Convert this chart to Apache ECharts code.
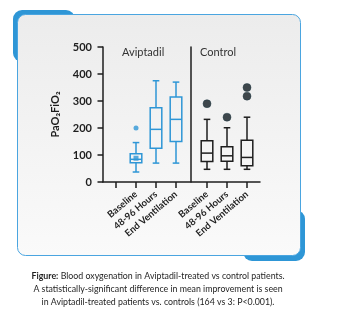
<!DOCTYPE html>
<html>
<head>
<meta charset="utf-8">
<script src="https://cdn.jsdelivr.net/npm/echarts@6/dist/echarts.min.js"></script>
<style>
html,body{margin:0;padding:0;background:#ffffff;}
#chart{width:341px;height:321px;}
</style>
</head>
<body>
<div id="chart"></div>
<script>
// ---- data ----
const categories = ['Baseline', '48-96 Hours', 'End Ventilation'];
const groupTitles = ['Aviptadil', 'Control'];
const yTicks = [0, 100, 200, 300, 400, 500];
// [min, Q1, median, Q3, max]
const aviptadilBoxes = [
  [37, 71, 84, 105, 146],
  [70, 125, 195, 275, 375],
  [70, 150, 232, 315, 370]
];
const aviptadilOutliers = [['Baseline', 200]];
const aviptadilMeans = [['Baseline', 88]];
const controlBoxes = [
  [47, 76, 107, 153, 232],
  [47, 77, 97, 131, 201],
  [47, 60, 91, 155, 240]
];
const controlOutliers = [['Baseline', 290], ['48-96 Hours', 240], ['End Ventilation', 318], ['End Ventilation', 350]];

const BLUE = '#2e96d6';
const DARK = '#1e1e1e';
const FONT = 'Lato';

function boxRenderer(color) {
  return function (params, api) {
    const x = api.value(0);
    const lo = api.coord([x, api.value(1)]);
    const q1 = api.coord([x, api.value(2)]);
    const md = api.coord([x, api.value(3)]);
    const q3 = api.coord([x, api.value(4)]);
    const hi = api.coord([x, api.value(5)]);
    const band = api.size([1, 0])[0];
    const bw = band * 0.58;
    const cw = band * 0.33;
    const cx = md[0];
    const st = { stroke: color, lineWidth: 1.5, fill: null };
    return {
      type: 'group',
      children: [
        { type: 'rect', shape: { x: cx - bw / 2, y: q3[1], width: bw, height: q1[1] - q3[1] }, style: { stroke: color, lineWidth: 1.5, fill: 'rgba(0,0,0,0)' } },
        { type: 'line', shape: { x1: cx - bw / 2, y1: md[1], x2: cx + bw / 2, y2: md[1] }, style: st },
        { type: 'line', shape: { x1: cx, y1: q3[1], x2: cx, y2: hi[1] }, style: st },
        { type: 'line', shape: { x1: cx, y1: q1[1], x2: cx, y2: lo[1] }, style: st },
        { type: 'line', shape: { x1: cx - cw / 2, y1: hi[1], x2: cx + cw / 2, y2: hi[1] }, style: st },
        { type: 'line', shape: { x1: cx - cw / 2, y1: lo[1], x2: cx + cw / 2, y2: lo[1] }, style: st }
      ]
    };
  };
}

const chart = echarts.init(document.getElementById('chart'), null, { renderer: 'canvas' });

const axisLineStyle = { color: DARK, width: 1.5 };
const xLabel = { interval: 0, rotate: 40, fontWeight: 'bold', fontSize: 9.5, color: DARK, fontFamily: FONT, margin: 11 };

const option = {
  animation: false,
  textStyle: { fontFamily: FONT },
  graphic: [
    { type: 'rect', z: 0, shape: { x: 13, y: 10, width: 62, height: 52, r: 9 }, style: { fill: BLUE } },
    { type: 'rect', z: 0, shape: { x: 243, y: 210, width: 62, height: 51, r: 9 }, style: { fill: BLUE } },
    { type: 'rect', z: 1, shape: { x: 17.5, y: 14.5, width: 283, height: 241, r: 8 },
      style: { stroke: '#4aa5e0', lineWidth: 1,
        fill: { type: 'linear', x: 0, y: 0, x2: 0, y2: 1, colorStops: [{ offset: 0, color: '#ececec' }, { offset: 1, color: '#fafafa' }] } } },
    { type: 'text', z: 2, style: {
        x: 158, y: 270, textAlign: 'center', lineHeight: 12.7, fontSize: 8.8, fontFamily: FONT, fill: DARK,
        text: '{b|Figure:} Blood oxygenation in Aviptadil-treated vs control patients.\nA statistically-significant difference in mean improvement is seen\nin Aviptadil-treated patients vs. controls (164 vs 3: P<0.001).',
        rich: { b: { fontWeight: 'bold', fontSize: 8.8, fontFamily: FONT, fill: DARK } }
      } }
  ],
  title: [
    { text: groupTitles[0], left: 122, top: 47, padding: 0, z: 8, textStyle: { fontSize: 11, fontWeight: 'normal', color: '#333', fontFamily: FONT } },
    { text: groupTitles[1], left: 200, top: 47, padding: 0, z: 8, textStyle: { fontSize: 11, fontWeight: 'normal', color: '#333', fontFamily: FONT } }
  ],
  grid: [
    { left: 106, top: 47, width: 80, height: 135 },
    { left: 197, top: 47, width: 60, height: 135 },
    { left: 103, top: 47, width: 157, height: 135 }
  ],
  xAxis: [
    { gridIndex: 0, type: 'category', z: 5, data: [''].concat(categories), boundaryGap: true,
      axisLine: { show: false }, axisTick: { show: true, alignWithLabel: true, length: 6, lineStyle: axisLineStyle },
      axisLabel: xLabel, splitLine: { show: false } },
    { gridIndex: 1, type: 'category', z: 5, data: categories.slice(), boundaryGap: true,
      axisLine: { show: false }, axisTick: { show: true, alignWithLabel: true, length: 6, lineStyle: axisLineStyle },
      axisLabel: xLabel, splitLine: { show: false } },
    { gridIndex: 2, type: 'value', z: 5, min: 0, max: 1,
      axisLine: { show: true, onZero: false, lineStyle: axisLineStyle }, axisTick: { show: false }, axisLabel: { show: false }, splitLine: { show: false } }
  ],
  yAxis: [
    { gridIndex: 0, type: 'value', z: 5, min: yTicks[0], max: yTicks[yTicks.length - 1], interval: 100, offset: 3,
      axisLine: { show: true, lineStyle: axisLineStyle }, axisTick: { show: true, length: 5.5, lineStyle: axisLineStyle },
      axisLabel: { fontWeight: 'bold', fontSize: 11, color: DARK, fontFamily: FONT, margin: 11 },
      splitLine: { show: false },
      name: 'PaO\u2082FiO\u2082', nameLocation: 'middle', nameGap: 42,
      nameTextStyle: { fontWeight: 'bold', fontSize: 11, color: DARK, fontFamily: FONT } },
    { gridIndex: 1, type: 'value', z: 5, min: 0, max: 500, interval: 100, offset: 6,
      axisLine: { show: true, lineStyle: axisLineStyle }, axisTick: { show: false }, axisLabel: { show: false }, splitLine: { show: false } },
    { gridIndex: 2, type: 'value', min: 0, max: 500, show: false }
  ],
  series: [
    { type: 'custom', xAxisIndex: 0, yAxisIndex: 0, z: 6, clip: false,
      renderItem: boxRenderer(BLUE), encode: { x: 0, y: [1, 2, 3, 4, 5] },
      data: categories.map((c, i) => [c].concat(aviptadilBoxes[i])) },
    { type: 'scatter', xAxisIndex: 0, yAxisIndex: 0, z: 7, symbol: 'circle', symbolSize: 5,
      itemStyle: { color: BLUE }, data: aviptadilOutliers },
    { type: 'scatter', xAxisIndex: 0, yAxisIndex: 0, z: 7, symbol: 'rect', symbolSize: 5,
      itemStyle: { color: BLUE }, data: aviptadilMeans },
    { type: 'custom', xAxisIndex: 1, yAxisIndex: 1, z: 6, clip: false,
      renderItem: boxRenderer(DARK), encode: { x: 0, y: [1, 2, 3, 4, 5] },
      data: categories.map((c, i) => [c].concat(controlBoxes[i])) },
    { type: 'scatter', xAxisIndex: 1, yAxisIndex: 1, z: 7, symbol: 'circle', symbolSize: 8,
      itemStyle: { color: '#111c22', borderColor: '#1d3844', borderWidth: 0.6 }, data: controlOutliers }
  ]
};
chart.setOption(option);
</script>
</body>
</html>
